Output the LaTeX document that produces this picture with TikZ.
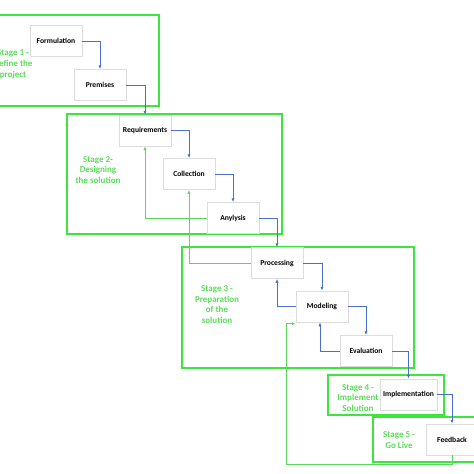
\documentclass[tikz,border=0pt]{standalone}
\usepackage{fontspec}
\setmainfont{Carlito}
\usetikzlibrary{arrows.meta}
\definecolor{stage-green}{HTML}{3CE63C}
\definecolor{label-green}{HTML}{5ADC5A}
\definecolor{loop-green}{HTML}{5CD65C}
\definecolor{flow-blue}{HTML}{4A70CC}
\definecolor{box-grey}{HTML}{DCDCDC}

\begin{document}
\begin{tikzpicture}[x=1pt, y=-1pt,
        >={Latex[length=4pt,width=3.2pt]},
        every node/.style={font=\bfseries\fontsize{7.6}{9}\selectfont},
        task/.style={draw=box-grey, fill=white, line width=0.5pt,
            minimum width=52pt, minimum height=31pt, inner sep=1pt},
        stagebox/.style={draw=stage-green, line width=1.6pt, inner sep=0pt},
        stagelabel/.style={text=label-green, align=center,
            font=\bfseries\fontsize{9}{10.7}\selectfont},
        flow/.style={->, draw=flow-blue, line width=0.8pt},
        back/.style={->, draw=loop-green, line width=0.8pt}]
      \useasboundingbox (0,0) rectangle (474,474);
      % stage frames
      \node[stagebox, minimum width=166pt, minimum height=91pt] (S1) at (76,60.5) {};
      \node[stagebox, minimum width=215pt, minimum height=120pt] (S2) at (174.5,174) {};
      \node[stagebox, minimum width=232pt, minimum height=121pt] (S3) at (298,307.5) {};
      \node[stagebox, minimum width=116pt, minimum height=40pt] (S4) at (386,395) {};
      \node[stagebox, minimum width=110pt, minimum height=45pt] (S5) at (428,439.5) {};
      \node[stagelabel] (L1) at (13,64.5) {Stage 1 -\\Define the\\project};
      \node[stagelabel] (L2) at (98,170) {Stage 2-\\Designing\\the solution};
      \node[stagelabel] (L3) at (217,304.5) {Stage 3 -\\Preparation\\of the\\solution};
      \node[stagelabel] (L4) at (358,398) {Stage 4 -\\Implement\\Solution};
      \node[stagelabel] (L5) at (399,440) {Stage 5 -\\Go Live};
      \coordinate (loop) at (286,464);
      % tasks
      \node[task] (Form) at (56,41) {Formulation};
      \node[task] (Prem) at (100,85) {Premises};
      \node[task] (Req) at (145,130.5) {Requirements};
      \node[task] (Coll) at (189,174) {Collection};
      \node[task] (Any) at (233,218) {Anylysis};
      \node[task] (Proc) at (277,263) {Processing};
      \node[task] (Model) at (322,306.5) {Modeling};
      \node[task] (Eval) at (366,351) {Evaluation};
      \node[task, minimum width=57pt] (Impl) at (408.5,394.5) {Implementation};
      \node[task] (Feed) at (452,439.5) {Feedback};
      % green loops
      \draw[back] (Any.west) -| (Req.south);
      \draw[back] (Proc.west) -| (Coll.south);
      \draw[back] (Feed.south) |- (loop) |- ([yshift=-1.5pt]Model.south west);
      % forward flow
      \draw[flow] (Form.east) -| (Prem.north);
      \draw[flow] (Prem.east) -| (Req.north);
      \draw[flow] (Req.east) -| (Coll.north);
      \draw[flow] (Coll.east) -| (Any.north);
      \draw[flow] (Any.east) -| (Proc.north);
      \draw[flow] (Proc.east) -| (Model.north);
      \draw[flow] (Model.east) -| (Eval.north);
      \draw[flow] (Eval.east) -| (Impl.north);
      \draw[flow] (Impl.east) -| (Feed.north);
      % rework
      \draw[flow] (Model.west) -| (Proc.south);
      \draw[flow] (Eval.west) -| ([xshift=-2pt]Model.south);
    \end{tikzpicture}
\end{document}
